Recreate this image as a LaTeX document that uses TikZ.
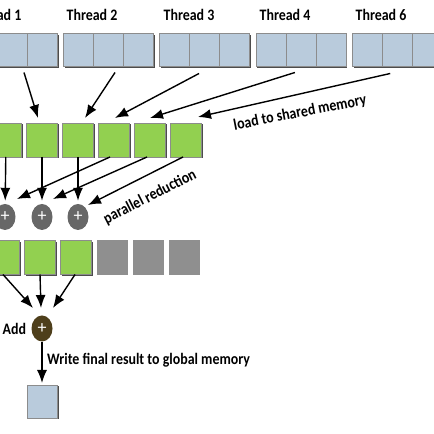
\documentclass[tikz,border=0pt]{standalone}
\usepackage{fontspec}
\setmainfont{Carlito}
\newfontfamily\lblfont[FakeStretch=0.87]{Carlito}
\usetikzlibrary{positioning,shadows,arrows.meta,shapes.geometric}
\definecolor{cellblue}{HTML}{B9CBDC}
\definecolor{cellgreen}{HTML}{92D050}
\definecolor{cellgray}{HTML}{8F8F8F}
\definecolor{plusgray}{HTML}{676767}
\definecolor{addbrown}{HTML}{4E3F1B}
\begin{document}
\begin{tikzpicture}[x=1pt, y=1pt,
  glob/.style = {draw=black!45, fill=cellblue, minimum width=30pt, minimum height=33pt, inner sep=0pt, outer sep=0pt, drop shadow={shadow xshift=1.5pt, shadow yshift=-1.5pt, fill=black!70, opacity=1}},
  shared/.style = {glob, fill=cellgreen, minimum width=31pt, minimum height=34pt},
  idle/.style = {fill=cellgray, minimum width=31pt, minimum height=35pt, inner sep=0pt, outer sep=0pt},
  plus/.style = {ellipse, fill=plusgray, minimum width=21pt, minimum height=26pt, inner sep=0pt, text=white, font=\fontsize{18}{18}\selectfont},
  lbl/.style = {font=\lblfont\fontsize{16}{18}\selectfont\bfseries, inner sep=0pt},
  arr/.style = {line width=1.4pt, -{Latex[length=13pt,width=10pt]}}]
\useasboundingbox (0,0) rectangle (434,434);
\clip (0,0) rectangle (434,434);

% global memory, one block per thread
\node[glob] (g11) at (-18,384) {};
\node[glob] (g12) [right=0pt of g11] {};
\node[glob] (g13) [right=0pt of g12] {};
\node[glob] (g21) at (78.3,384) {};
\node[glob] (g22) [right=0pt of g21] {};
\node[glob] (g23) [right=0pt of g22] {};
\node[glob] (g31) at (174.6,384) {};
\node[glob] (g32) [right=0pt of g31] {};
\node[glob] (g33) [right=0pt of g32] {};
\node[glob] (g41) at (270.9,384) {};
\node[glob] (g42) [right=0pt of g41] {};
\node[glob] (g43) [right=0pt of g42] {};
\node[glob] (g51) at (367.2,384) {};
\node[glob] (g52) [right=0pt of g51] {};
\node[glob] (g53) [right=0pt of g52] {};

\node[lbl] (t1) at (-4,419) {Thread 1};
\node[lbl] (t2) at (92,419) {Thread 2};
\node[lbl] (t3) at (189,419) {Thread 3};
\node[lbl] (t4) at (285,419) {Thread 4};
\node[lbl] (t5) at (381,419) {Thread 6};

% shared memory
\node[shared] (s1) at (6,294) {};
\node[shared] (s2) [right=5pt of s1] {};
\node[shared] (s3) [right=5pt of s2] {};
\node[shared] (s4) [right=5pt of s3] {};
\node[shared] (s5) [right=5pt of s4] {};
\node[shared] (s6) [right=5pt of s5] {};

\draw[arr] ([xshift=12pt,yshift=-6pt]g12.south) -- ([xshift=-4pt,yshift=5pt]s2.north);
\draw[arr] ([xshift=6.7pt,yshift=-6pt]g22.south) -- ([xshift=7pt,yshift=5pt]s3.north);
\draw[arr] ([xshift=-5.6pt,yshift=-7pt]g32.south) -- ([xshift=1pt,yshift=5pt]s4.north);
\draw[arr] ([xshift=-6pt,yshift=-6pt]g42.south) -- ([yshift=5pt]s5.north);
\draw[arr] ([xshift=-7pt,yshift=-7pt]g52.south) -- ([xshift=12pt,yshift=6pt]s6.north);

\node[lbl, rotate=11] (ld) at (300,321) {load to shared memory};

% first reduction step
\node[plus] (p1) at (5,217) {+};
\node[plus] (p2) at (42,217) {+};
\node[plus] (p3) at (78,217) {+};

\draw[arr, shorten >=3pt] (s1) -- (p1);
\draw[arr, shorten >=3pt] (s2) -- (p2);
\draw[arr, shorten >=3pt] (s3) -- (p3);
\draw[arr] ([xshift=-4pt]s4.south) -- ([xshift=12pt,yshift=18pt]p1.center);
\draw[arr] ([xshift=-3pt]s5.south) -- ([xshift=11pt,yshift=18pt]p2.center);
\draw[arr] ([xshift=-3pt]s6.south) -- ([xshift=10pt,yshift=12pt]p3.center);

\node[lbl, rotate=27] (pr) at (150,237) {parallel reduction};

% partial sums
\node[shared] (r1) at (4,176.5) {};
\node[shared] (r2) [right=5pt of r1] {};
\node[shared] (r3) [right=5pt of r2] {};
\node[idle] (r4) [right=5pt of r3] {};
\node[idle] (r5) [right=5pt of r4] {};
\node[idle] (r6) [right=5pt of r5] {};

% final sum
\node[plus, fill=addbrown] (add) at (42,105.5) {+};
\node[lbl] (al) [left=5pt of add] {Add};
\node[glob] (out) at (42,32.5) {};

\draw[arr] ([xshift=-1pt]r1.south) -- ([xshift=-9pt,yshift=20.5pt]add.center);
\draw[arr] (r2.south) -- ([xshift=-1pt,yshift=20.5pt]add.center);
\draw[arr] ([xshift=-1pt]r3.south) -- ([xshift=11pt,yshift=20.5pt]add.center);
\draw[arr, shorten >=2pt] (add) -- (out);

\node[lbl, anchor=west] (wr) at (47,74) {Write final result to global memory};
\end{tikzpicture}
\end{document}
